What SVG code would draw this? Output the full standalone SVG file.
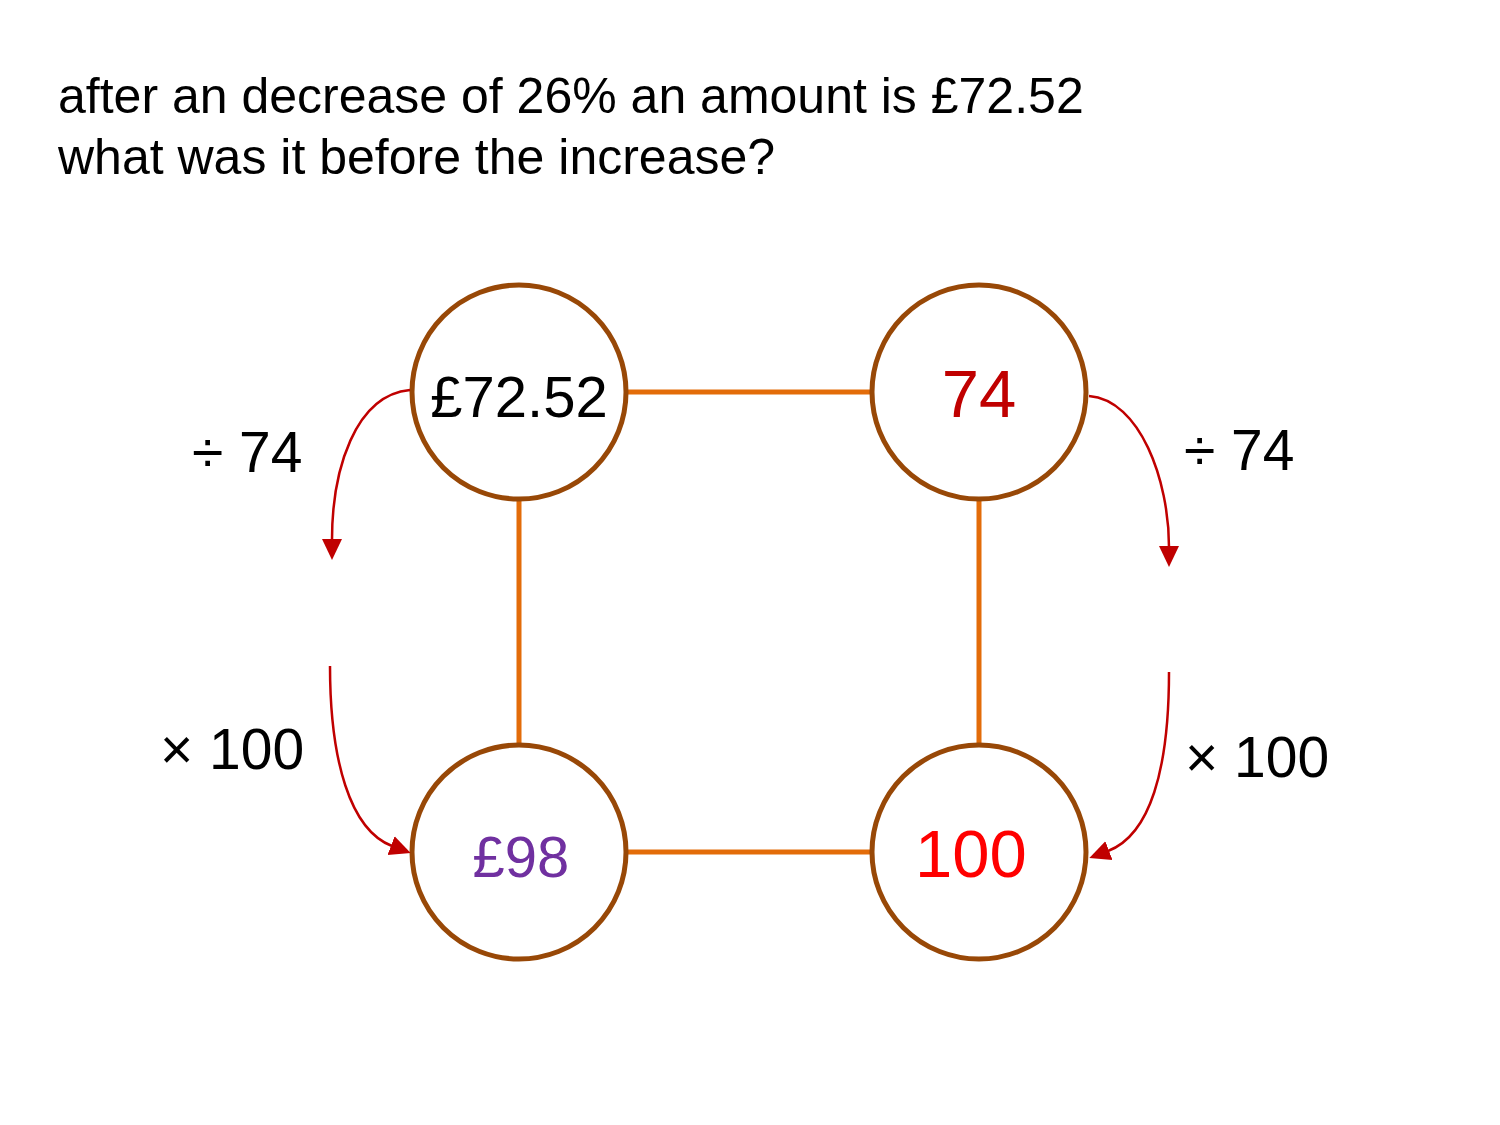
<svg xmlns="http://www.w3.org/2000/svg" width="1500" height="1125" viewBox="0 0 1500 1125">
<defs>
<style>
.node circle{fill:#ffffff;stroke:#984807;stroke-width:5}
.conn line{stroke:#E36C09;stroke-width:5}
.arrow{fill:none;stroke:#C00000;stroke-width:2.5;marker-end:url(#ah)}
text{font-family:"Liberation Sans",Arial,sans-serif}
.lbl{font-size:57px;fill:#000000}
.title{font-size:50px;fill:#000000}
</style>
<marker id="ah" markerUnits="userSpaceOnUse" markerWidth="22" markerHeight="22" viewBox="0 0 22 22" refX="1" refY="11" orient="auto">
<path d="M0,1 L21,11 L0,21 Z" fill="#C00000"/>
</marker>
</defs>
<rect width="1500" height="1125" fill="#ffffff"/>
<text class="title" x="58" y="113">after an decrease of 26% an amount is £72.52</text>
<text class="title" x="58" y="174">what was it before the increase?</text>
<g id="connectors" class="conn">
<line x1="519" y1="392" x2="979" y2="392"/>
<line x1="519" y1="852" x2="979" y2="852"/>
<line x1="519" y1="392" x2="519" y2="852"/>
<line x1="979" y1="392" x2="979" y2="852"/>
</g>
<g id="node-7252" class="node"><circle cx="519" cy="392" r="107"/><text x="519" y="417" font-size="58" text-anchor="middle" fill="#000000">£72.52</text></g>
<g id="node-74" class="node"><circle cx="979" cy="392" r="107"/><text x="979" y="417" font-size="67" text-anchor="middle" fill="#C00000">74</text></g>
<g id="node-98" class="node"><circle cx="519" cy="852" r="107"/><text x="521" y="877" font-size="58" text-anchor="middle" fill="#7030A0">£98</text></g>
<g id="node-100" class="node"><circle cx="979" cy="852" r="107"/><text x="971" y="877" font-size="67" text-anchor="middle" fill="#FF0000">100</text></g>
<g id="arrows">
<path class="arrow" d="M410,390 C355,395 332,470 332,540"/>
<path class="arrow" d="M330,666 C330,760 350,830 392,846"/>
<path class="arrow" d="M1089,396 C1140,400 1169,480 1169,547"/>
<path class="arrow" d="M1169,672 C1169,770 1150,835 1108,851"/>
</g>
<text class="lbl" x="192" y="472">÷ 74</text>
<text class="lbl" x="160" y="769">× 100</text>
<text class="lbl" x="1184" y="470">÷ 74</text>
<text class="lbl" x="1185" y="777">× 100</text>
</svg>
